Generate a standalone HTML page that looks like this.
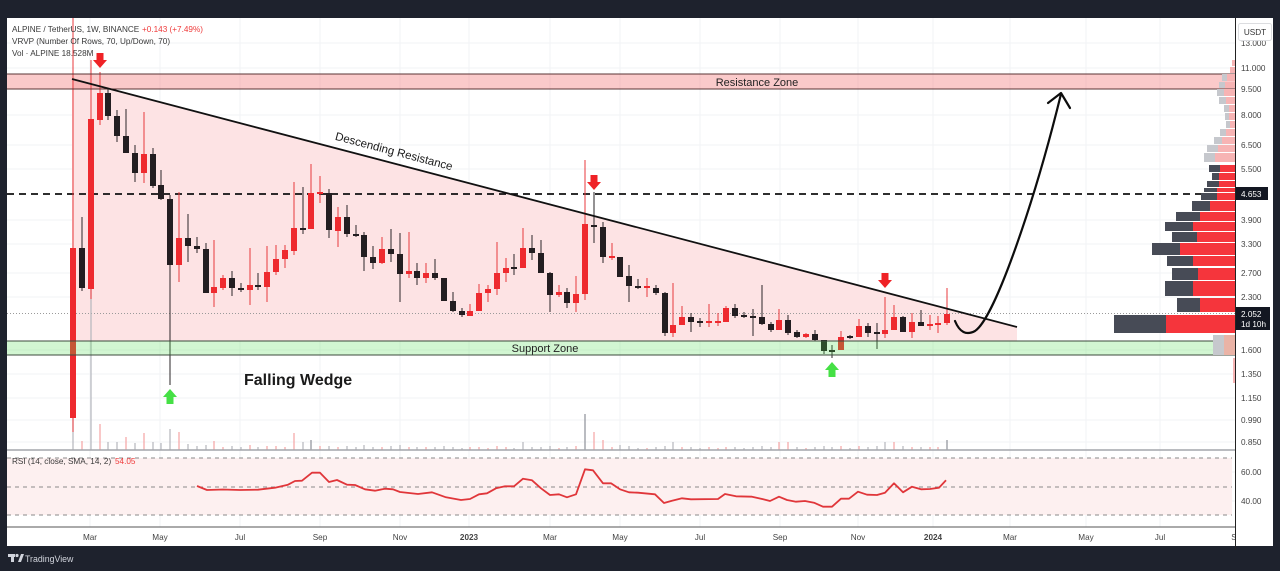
<!DOCTYPE html>
<html><head><meta charset="utf-8"><style>
html,body{margin:0;padding:0;background:#1e222d;width:1280px;height:571px;overflow:hidden}
svg{display:block}
text{font-family:"Liberation Sans",sans-serif}
</style></head><body>
<svg width="1280" height="571" viewBox="0 0 1280 571" xmlns="http://www.w3.org/2000/svg">
<rect x="0" y="0" width="1280" height="571" fill="#1e222d"/>
<rect x="7" y="18" width="1266" height="528" fill="#ffffff"/>

<!-- grid -->
<g stroke="#f2f3f6" stroke-width="1">
<path d="M90 18V527M160 18V527M240 18V527M320 18V527M400 18V527M469 18V527M550 18V527M620 18V527M700 18V527M780 18V527M858 18V527M933 18V527M1010 18V527M1086 18V527M1160 18V527"/>
<path d="M7 43H1235M7 68H1235M7 89H1235M7 115H1235M7 145H1235M7 169H1235M7 220H1235M7 244H1235M7 273H1235M7 297H1235M7 350H1235M7 374H1235M7 398H1235M7 420H1235M7 442H1235M7 472H1235M7 501H1235"/>
</g>

<!-- wedge fill -->
<polygon points="72,79 1017,327 1017,341 72,341" fill="#fde3e4"/>

<!-- dotted last price line -->
<line x1="7" y1="313.5" x2="1235" y2="313.5" stroke="#9a9a9a" stroke-width="1" stroke-dasharray="1 2"/>
<!-- dashed horizontal -->
<line x1="7" y1="194" x2="1235" y2="194" stroke="#111" stroke-width="1.7" stroke-dasharray="7 5"/>

<!-- volume bars -->
<g stroke-width="1.2">
<path stroke="#b4b6bc" d="M73 300V450M91 120V450M108 442V450M117 442V450M135 443V450M153 442V450M161 443V450M170 429V450M188 444V450M197 446V450M206 445V450M232 446V450M241 447V450M258 447V450M303 442V450M329 446V450M347 446V450M356 447V450M364 445V450M373 447V450M391 446V450M400 445V450M417 447V450M435 447V450M444 446V450M453 447V450M462 448V450M514 448V450M523 442V450M532 447V450M541 447V450M550 446V450M567 447V450M620 445V450M629 446V450M638 448V450M656 447V450M665 446V450M673 442V450M691 447V450M700 448V450M735 447V450M744 448V450M753 447V450M762 446V450M771 447V450M797 447V450M815 447V450M824 446V450M832 447V450M850 448V450M868 447V450M877 446V450M885 442V450M903 446V450M921 447V450"/>
<path stroke="#8d9098" d="M585 414V450M947 440V450M311 440V450"/>
<path stroke="#f5a3a3" d="M82 441V450M100 424V450M126 437V450M144 433V450M179 432V450M214 441V450M223 447V450M250 445V450M267 446V450M276 446V450M285 447V450M294 433V450M320 446V450M338 447V450M382 447V450M409 447V450M426 447V450M470 447V450M479 447V450M488 448V450M497 446V450M506 447V450M559 448V450M576 446V450M594 432V450M603 440V450M612 447V450M647 448V450M682 447V450M709 447V450M718 448V450M726 447V450M779 442V450M788 442V450M806 448V450M841 446V450M859 446V450M894 442V450M912 447V450M930 447V450M938 447V450"/>
</g>

<!-- candles red -->
<g fill="#ee2a2f">
<path fill="none" stroke="#e8383c" stroke-width="1" d="M73 18V432M91 60V299M100 72V125M144 112V183M179 192V282M214 240V307M223 275V290M250 248V305M267 246V302M276 245V275M285 245V268M294 182V255M311 164V229M320 176V203M338 207V247M382 237V264M409 232V278M426 263V283M470 304V316M479 284V311M488 285V302M497 242V295M506 258V282M523 228V268M559 285V297M576 276V312M585 160V300M612 243V260M647 278V297M673 283V337M682 306V325M709 304V327M718 313V326M726 306V322M779 309V330M806 333V338M841 331V350M859 319V337M885 297V338M894 305V330M912 313V338M930 315V330M938 316V333M947 288V325"/>
<rect x="70" y="248" width="6" height="170"/>
<rect x="88" y="119" width="6" height="170"/>
<rect x="97" y="93" width="6" height="27"/>
<rect x="141" y="154" width="6" height="19"/>
<rect x="176" y="238" width="6" height="27"/>
<rect x="211" y="287" width="6" height="6"/>
<rect x="220" y="278" width="6" height="10"/>
<rect x="247" y="285" width="6" height="5"/>
<rect x="264" y="272" width="6" height="15"/>
<rect x="273" y="259" width="6" height="13"/>
<rect x="282" y="250" width="6" height="9"/>
<rect x="291" y="228" width="6" height="23"/>
<rect x="308" y="193" width="6" height="36"/>
<rect x="317" y="192" width="6" height="2"/>
<rect x="335" y="217" width="6" height="14"/>
<rect x="379" y="249" width="6" height="14"/>
<rect x="406" y="271" width="6" height="3"/>
<rect x="423" y="273" width="6" height="5"/>
<rect x="467" y="311" width="6" height="5"/>
<rect x="476" y="293" width="6" height="18"/>
<rect x="485" y="289" width="6" height="4"/>
<rect x="494" y="273" width="6" height="16"/>
<rect x="503" y="268" width="6" height="5"/>
<rect x="520" y="248" width="6" height="20"/>
<rect x="556" y="292" width="6" height="3"/>
<rect x="573" y="294" width="6" height="9"/>
<rect x="582" y="224" width="6" height="70"/>
<rect x="609" y="256" width="6" height="2"/>
<rect x="644" y="286" width="6" height="2"/>
<rect x="670" y="325" width="6" height="8"/>
<rect x="679" y="317" width="6" height="8"/>
<rect x="706" y="321" width="6" height="2"/>
<rect x="715" y="321" width="6" height="2"/>
<rect x="723" y="308" width="6" height="14"/>
<rect x="776" y="320" width="6" height="10"/>
<rect x="803" y="334" width="6" height="3"/>
<rect x="838" y="337" width="6" height="13"/>
<rect x="856" y="326" width="6" height="11"/>
<rect x="882" y="330" width="6" height="4"/>
<rect x="891" y="317" width="6" height="13"/>
<rect x="909" y="322" width="6" height="10"/>
<rect x="927" y="324" width="6" height="2"/>
<rect x="935" y="323" width="6" height="2"/>
<rect x="944" y="314" width="6" height="9"/>
</g>

<!-- candles black -->
<g fill="#231e21">
<path fill="none" stroke="#2a2527" stroke-width="1" d="M82 217V291M108 89V120M117 110V142M126 109V153M135 145V182M153 148V188M161 170V200M170 195V385M188 214V262M197 237V253M206 243V293M232 271V296M241 283V292M258 273V290M303 187V234M329 189V238M347 205V237M356 225V237M364 232V271M373 246V269M391 229V262M400 233V302M417 263V285M435 259V280M444 278V301M453 292V312M462 308V317M514 254V275M532 235V260M541 240V273M550 272V312M567 288V308M594 192V243M603 222V263M620 257V277M629 265V302M638 279V289M656 285V295M665 292V336M691 313V332M700 318V327M735 304V318M744 312V318M753 309V336M762 285V325M771 322V332M788 315V335M797 330V338M815 330V341M824 340V354M832 345V358M850 335V339M868 323V337M877 323V349M903 316V332M921 310V326"/>
<rect x="79" y="248" width="6" height="40"/>
<rect x="105" y="93" width="6" height="23"/>
<rect x="114" y="116" width="6" height="20"/>
<rect x="123" y="136" width="6" height="17"/>
<rect x="132" y="153" width="6" height="20"/>
<rect x="150" y="154" width="6" height="32"/>
<rect x="158" y="185" width="6" height="14"/>
<rect x="167" y="199" width="6" height="66"/>
<rect x="185" y="238" width="6" height="8"/>
<rect x="194" y="246" width="6" height="3"/>
<rect x="203" y="249" width="6" height="44"/>
<rect x="229" y="278" width="6" height="10"/>
<rect x="238" y="288" width="6" height="2"/>
<rect x="255" y="285" width="6" height="2"/>
<rect x="300" y="228" width="6" height="2"/>
<rect x="326" y="193" width="6" height="37"/>
<rect x="344" y="217" width="6" height="17"/>
<rect x="353" y="234" width="6" height="2"/>
<rect x="361" y="235" width="6" height="22"/>
<rect x="370" y="257" width="6" height="6"/>
<rect x="388" y="249" width="6" height="5"/>
<rect x="397" y="254" width="6" height="20"/>
<rect x="414" y="271" width="6" height="7"/>
<rect x="432" y="273" width="6" height="5"/>
<rect x="441" y="278" width="6" height="23"/>
<rect x="450" y="301" width="6" height="10"/>
<rect x="459" y="311" width="6" height="4"/>
<rect x="511" y="267" width="6" height="2"/>
<rect x="529" y="248" width="6" height="5"/>
<rect x="538" y="253" width="6" height="20"/>
<rect x="547" y="273" width="6" height="22"/>
<rect x="564" y="292" width="6" height="11"/>
<rect x="591" y="225" width="6" height="2"/>
<rect x="600" y="227" width="6" height="30"/>
<rect x="617" y="257" width="6" height="20"/>
<rect x="626" y="276" width="6" height="10"/>
<rect x="635" y="286" width="6" height="2"/>
<rect x="653" y="288" width="6" height="5"/>
<rect x="662" y="293" width="6" height="40"/>
<rect x="688" y="317" width="6" height="5"/>
<rect x="697" y="321" width="6" height="2"/>
<rect x="732" y="308" width="6" height="8"/>
<rect x="741" y="315" width="6" height="2"/>
<rect x="750" y="316" width="6" height="2"/>
<rect x="759" y="317" width="6" height="7"/>
<rect x="768" y="324" width="6" height="6"/>
<rect x="785" y="320" width="6" height="13"/>
<rect x="794" y="332" width="6" height="5"/>
<rect x="812" y="334" width="6" height="6"/>
<rect x="821" y="340" width="6" height="11"/>
<rect x="829" y="350" width="6" height="2"/>
<rect x="847" y="336" width="6" height="2"/>
<rect x="865" y="326" width="6" height="7"/>
<rect x="874" y="332" width="6" height="2"/>
<rect x="900" y="317" width="6" height="15"/>
<rect x="918" y="322" width="6" height="4"/>
</g>

<!-- zones (translucent over candles) -->
<rect x="7" y="74" width="1228" height="15" fill="rgba(240,80,80,0.30)"/>
<line x1="7" y1="74" x2="1235" y2="74" stroke="#5a3434" stroke-width="1"/>
<line x1="7" y1="89" x2="1235" y2="89" stroke="#5a3434" stroke-width="1"/>
<rect x="7" y="341" width="1228" height="14" fill="rgba(76,220,76,0.25)"/>
<line x1="7" y1="341" x2="1235" y2="341" stroke="#3c4a3c" stroke-width="1"/>
<line x1="7" y1="355" x2="1235" y2="355" stroke="#3c4a3c" stroke-width="1"/>

<!-- descending resistance line -->
<line x1="72" y1="79" x2="1017" y2="327" stroke="#111" stroke-width="1.8"/>

<!-- VRVP -->
<g>
<g fill="#c6c8cd">
<rect x="1222" y="74" width="5" height="7"/><rect x="1219" y="82" width="6" height="6"/><rect x="1217" y="89" width="7" height="7"/><rect x="1219" y="97" width="7" height="7"/><rect x="1224" y="105" width="5" height="7"/><rect x="1225" y="113" width="4" height="7"/><rect x="1226" y="121" width="4" height="7"/><rect x="1220" y="129" width="6" height="7"/><rect x="1214" y="137" width="8" height="7"/><rect x="1207" y="145" width="11" height="7"/><rect x="1204" y="153" width="11" height="9"/>
<rect x="1213" y="335" width="11" height="20"/>
</g>
<g fill="#f7b4b4">
<rect x="1232" y="60" width="3" height="6"/><rect x="1230" y="67" width="5" height="6"/><rect x="1227" y="74" width="8" height="7"/><rect x="1225" y="82" width="10" height="6"/><rect x="1224" y="89" width="11" height="7"/><rect x="1226" y="97" width="9" height="7"/><rect x="1229" y="105" width="6" height="7"/><rect x="1229" y="113" width="6" height="7"/><rect x="1230" y="121" width="5" height="7"/><rect x="1226" y="129" width="9" height="7"/><rect x="1222" y="137" width="13" height="7"/><rect x="1218" y="145" width="17" height="7"/><rect x="1215" y="153" width="20" height="9"/>
<rect x="1224" y="335" width="11" height="20" fill="#eab3a6"/>
<rect x="1233" y="358" width="2" height="25"/>
</g>
<g fill="#474b56">
<rect x="1209" y="165" width="11" height="7"/><rect x="1212" y="173" width="7" height="7"/><rect x="1207" y="181" width="12" height="6"/><rect x="1204" y="188" width="13" height="4"/><rect x="1201" y="193" width="16" height="7"/><rect x="1192" y="201" width="18" height="10"/><rect x="1176" y="212" width="24" height="9"/><rect x="1165" y="222" width="28" height="9"/><rect x="1172" y="232" width="25" height="10"/><rect x="1152" y="243" width="28" height="12"/><rect x="1167" y="256" width="26" height="10"/><rect x="1172" y="268" width="26" height="12"/><rect x="1165" y="281" width="28" height="15"/><rect x="1177" y="298" width="23" height="14"/><rect x="1114" y="315" width="52" height="18"/>
</g>
<g fill="#f5353c">
<rect x="1220" y="165" width="15" height="7"/><rect x="1219" y="173" width="16" height="7"/><rect x="1219" y="181" width="16" height="6"/><rect x="1217" y="188" width="18" height="4"/><rect x="1217" y="193" width="18" height="7"/><rect x="1210" y="201" width="25" height="10"/><rect x="1200" y="212" width="35" height="9"/><rect x="1193" y="222" width="42" height="9"/><rect x="1197" y="232" width="38" height="10"/><rect x="1180" y="243" width="55" height="12"/><rect x="1193" y="256" width="42" height="10"/><rect x="1198" y="268" width="37" height="12"/><rect x="1193" y="281" width="42" height="15"/><rect x="1200" y="298" width="35" height="14"/><rect x="1166" y="315" width="69" height="18"/>
</g>
</g>

<!-- arrows -->
<g fill="#ef2226">
<rect x="96.5" y="53" width="7" height="7"/><polygon points="93,60 107,60 100,68"/>
<rect x="590.5" y="175" width="7" height="7"/><polygon points="587,182 601,182 594,190"/>
<rect x="881.5" y="273" width="7" height="7"/><polygon points="878,280 892,280 885,288"/>
</g>
<g fill="#45e045">
<polygon points="170,389 177,397 163,397"/><rect x="166.5" y="397" width="7" height="7"/>
<polygon points="832,362 839,370 825,370"/><rect x="828.5" y="370" width="7" height="7"/>
</g>

<!-- curved projection arrow -->
<path d="M955,321 Q962,338 975,331 C995,318 1035,200 1061,94" fill="none" stroke="#0d0d0d" stroke-width="2.2" stroke-linecap="round"/>
<path d="M1048,103 L1061,93 L1070,108" fill="none" stroke="#0d0d0d" stroke-width="2.2" stroke-linecap="round" stroke-linejoin="round"/>

<!-- annotation text -->
<text x="757" y="86" font-size="11" fill="#222" text-anchor="middle">Resistance Zone</text>
<text x="545" y="352" font-size="11" fill="#222" text-anchor="middle">Support Zone</text>
<text x="244" y="385" font-size="16" font-weight="bold" fill="#1a1a1a">Falling Wedge</text>
<text x="393" y="155" font-size="11.5" fill="#1a1a1a" text-anchor="middle" transform="rotate(14.7 393 155)">Descending Resistance</text>

<!-- header legend -->
<text x="12" y="32" font-size="8.2" fill="#3a3a3a">ALPINE / TetherUS, 1W, BINANCE</text>
<text x="142" y="32" font-size="8.2" fill="#ef3b3b">+0.143 (+7.49%)</text>
<text x="12" y="44" font-size="8.2" fill="#3a3a3a">VRVP (Number Of Rows, 70, Up/Down, 70)</text>
<text x="12" y="56" font-size="8.2" fill="#3a3a3a">Vol · ALPINE  18.528M</text>

<!-- pane separator -->
<line x1="7" y1="450" x2="1273" y2="450" stroke="#a4a6ab" stroke-width="1.5"/>

<!-- RSI pane -->
<rect x="7" y="458" width="1225" height="57" fill="#fdf0f0"/>
<g stroke="#8a8a8a" stroke-width="1" stroke-dasharray="4 4">
<line x1="7" y1="458" x2="1232" y2="458"/>
<line x1="7" y1="487" x2="1232" y2="487"/>
<line x1="7" y1="515" x2="1232" y2="515"/>
</g>
<polyline fill="none" stroke="#e0363a" stroke-width="1.8" stroke-linejoin="round" points="197,486 207,490 223,489.5 240,490 258,489.7 275,487.7 288,484.7 295,481 302,480.7 312,472.7 320,472.7 329,482 337,480 347,484.7 355,485 365,489.3 375,490.7 385,488.7 393,489.3 400,492 418,494 432,492.3 446,497.3 461,500 470,499 479,494.3 487,493.3 496,488.3 505,486.3 514,486.3 523,478.7 532,480.3 541,488.3 550,495 559,494.3 567,497.3 576,494.3 585,469.3 593,470.3 603,483.3 611,483.3 620,489.3 629,492.3 638,492.7 655,494.3 664,503 672,500.7 682,498.3 691,499.3 718,499 725,494 736,496.3 752,496.7 761,498.7 770,501 779,496.7 787,500 796,501.7 805,501 814,502.7 823,506.7 832,506.7 841,498.7 849,498.7 858,491.7 867,494.7 877,495 885,492.7 894,483.3 903,492.3 912,486.7 921,489.3 930,489 939,487.7 946,480.3"/>
<text x="12" y="464" font-size="8.2" fill="#3a3a3a">RSI (14, close, SMA, 14, 2)</text>
<text x="115" y="464" font-size="8.2" fill="#ef3b3b">54.05</text>

<!-- time axis -->
<line x1="7" y1="527" x2="1273" y2="527" stroke="#555" stroke-width="1"/>
<g font-size="8.2" fill="#444" text-anchor="middle">
<text x="90" y="540">Mar</text><text x="160" y="540">May</text><text x="240" y="540">Jul</text><text x="320" y="540">Sep</text><text x="400" y="540">Nov</text>
<text x="469" y="540" font-weight="bold">2023</text>
<text x="550" y="540">Mar</text><text x="620" y="540">May</text><text x="700" y="540">Jul</text><text x="780" y="540">Sep</text><text x="858" y="540">Nov</text>
<text x="933" y="540" font-weight="bold">2024</text>
<text x="1010" y="540">Mar</text><text x="1086" y="540">May</text><text x="1160" y="540">Jul</text><text x="1234" y="540">S</text>
</g>

<!-- price axis -->
<rect x="1236" y="18" width="37" height="528" fill="#fff"/>
<line x1="1235.5" y1="18" x2="1235.5" y2="550" stroke="#222" stroke-width="1"/>
<g font-size="8.2" fill="#444">
<text x="1241" y="46">13.000</text>
<text x="1241" y="71">11.000</text>
<text x="1241" y="92">9.500</text>
<text x="1241" y="118">8.000</text>
<text x="1241" y="148">6.500</text>
<text x="1241" y="172">5.500</text>
<text x="1241" y="223">3.900</text>
<text x="1241" y="247">3.300</text>
<text x="1241" y="276">2.700</text>
<text x="1241" y="300">2.300</text>
<text x="1241" y="353">1.600</text>
<text x="1241" y="377">1.350</text>
<text x="1241" y="401">1.150</text>
<text x="1241" y="423">0.990</text>
<text x="1241" y="445">0.850</text>
<text x="1241" y="475">60.00</text>
<text x="1241" y="504">40.00</text>
</g>
<rect x="1238.5" y="23.5" width="33" height="17" rx="2" fill="#fff" stroke="#dcdde0"/>
<text x="1255" y="35" font-size="8.2" fill="#333" text-anchor="middle">USDT</text>
<rect x="1236" y="187" width="32" height="13" fill="#131722"/>
<text x="1241" y="197" font-size="8.2" fill="#fff">4.653</text>
<rect x="1236" y="307" width="34" height="23" fill="#131722"/>
<text x="1241" y="317" font-size="8.2" fill="#fff">2.052</text>
<text x="1241" y="327" font-size="8.2" fill="#fff">1d 10h</text>

<!-- TradingView logo -->
<g fill="#d1d4dc">
<rect x="8" y="554" width="7" height="3"/><rect x="11" y="554" width="3" height="8"/>
<circle cx="17" cy="555.5" r="1.6"/>
<polygon points="18,562 21,554 24,554 21,562"/>
</g>
<text x="25" y="562" font-size="8.8" fill="#d1d4dc">TradingView</text>
</svg>
</body></html>
